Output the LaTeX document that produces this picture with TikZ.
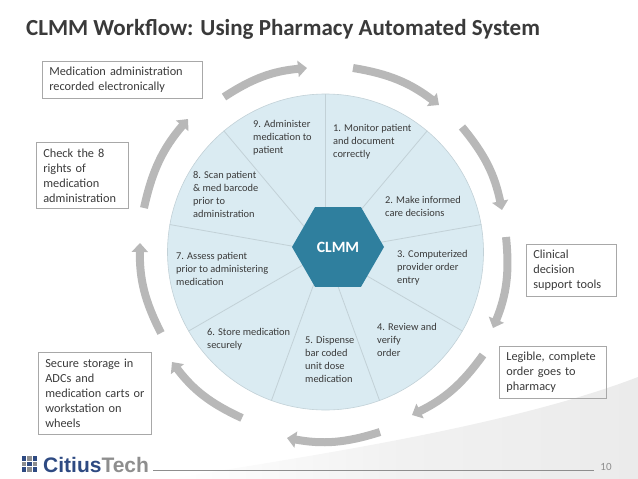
\documentclass[tikz,border=0pt]{standalone}
\usepackage{fontspec}
\setmainfont{Carlito}
\newfontfamily\logofont{Liberation Sans}
\usetikzlibrary{shapes.geometric,arrows.meta}

\definecolor{inkgray}{HTML}{3A3A3A}
\definecolor{wheelblue}{HTML}{DAEBF2}
\definecolor{spokegray}{HTML}{C2D1D7}
\definecolor{hubteal}{HTML}{2F7F9E}
\definecolor{flowgray}{HTML}{B8B8B8}
\definecolor{boxgray}{HTML}{A8A8A8}
\definecolor{swooshgray}{HTML}{EBEBEB}
\definecolor{citiusblue}{HTML}{2E4A82}
\definecolor{techgray}{HTML}{8E8E8E}

\tikzset{
  wheel/.style={circle,fill=wheelblue,draw=spokegray,line width=0.6pt,minimum size=316pt,inner sep=0pt},
  hub/.style={regular polygon,regular polygon sides=6,fill=hubteal,minimum size=92pt,inner sep=0pt,
    text=white,font=\fontsize{15.7}{18}\selectfont\bfseries},
  spoke/.style={draw=spokegray,line width=0.8pt},
  flow/.style={draw=flowgray,line width=8pt,-{Triangle[length=9pt,width=16pt]}},
  infobox/.style={draw=boxgray,line width=0.7pt,anchor=north west,inner xsep=7pt,inner ysep=0pt,align=left,
    text=inkgray,font=\fontsize{12.3}{15}\selectfont},
  wedgelabel/.style={anchor=north west,inner sep=0pt,align=left,text=inkgray,font=\fontsize{10.4}{13}\selectfont}
}

\begin{document}
\begin{tikzpicture}[x=1pt,y=-1pt]
  \useasboundingbox (0,0) rectangle (638,479);

  % background swoosh
  \shade[left color=white,right color=swooshgray,middle color=swooshgray!70!white]
    (170,479) .. controls (280,460) and (500,430) .. (638,377) -- (638,479) -- cycle;

  \node[anchor=west,inner sep=0pt,text=inkgray,font=\fontsize{23}{27}\selectfont\bfseries] (title) at (26,29)
    {CLMM Workflow: Using Pharmacy Automated System};

  % wheel
  \node[wheel] (rim) at (325.5,252) {};
  \foreach \ang in {90,50,10,-30,-70,-110,-150,170,130} {
    \draw[spoke] (rim.center) -- (rim.\ang);
  }
  \node[hub] (clmm) at (338,247) {\raisebox{-3pt}{CLMM}};

  % step labels
  \node[wedgelabel] (step1) at (333,124) {1. Monitor patient\\and document\\correctly};
  \node[wedgelabel] (step2) at (385,196.5) {2. Make informed\\care decisions};
  \node[wedgelabel] (step3) at (397,250.5) {3. Computerized\\provider order\\entry};
  \node[wedgelabel] (step4) at (377,323.5) {4. Review and\\verify\\order};
  \node[wedgelabel] (step5) at (305,336.5) {5. Dispense\\bar coded\\unit dose\\medication};
  \node[wedgelabel] (step6) at (207,328.5) {6. Store medication\\securely};
  \node[wedgelabel] (step7) at (176,252.5) {7. Assess patient\\prior to administering\\medication};
  \node[wedgelabel] (step8) at (193,171.5) {8. Scan patient\\\& med barcode\\prior to\\administration};
  \node[wedgelabel] (step9) at (253,120.5) {9. Administer\\medication to\\patient};

  % arrows round the wheel
  \foreach \i/\tx/\ty/\hx/\hy in {1/224/97/307/68, 2/353/68/439/105, 3/462/127/502/210,
      4/506/237/493/328, 5/483/355/412/415, 6/380/432/287/438,
      7/242/418/172/362, 8/161/333/140/243, 9/144/208/188/119} {
    \coordinate (tail\i) at (\tx,\ty);
    \coordinate (head\i) at (\hx,\hy);
    \draw[flow] (tail\i) to[bend left=14] (head\i);
  }

  % outer boxes
  \node[infobox,text width=146pt,minimum height=37pt] (recorded) at (42,61)
    {Medication administration\\recorded electronically};
  \node[infobox,text width=78pt,minimum height=66pt] (rights) at (36,142)
    {Check the 8\\rights of\\medication\\administration};
  \node[infobox,text width=99pt,minimum height=82pt] (storage) at (38,352)
    {Secure storage in\\ADCs and\\\mbox{medication carts or}\\workstation on\\wheels};
  \node[infobox,text width=76pt,minimum height=52pt] (support) at (526,244)
    {Clinical\\decision\\support tools};
  \node[infobox,text width=93pt,minimum height=52pt] (legible) at (499,346)
    {Legible, complete\\order goes to\\pharmacy};

  % footer
  \foreach \row in {0,1,2} {
    \foreach \col in {0,1,2} {
      \pgfmathparse{mod(\row+\col,2) == 0 ? "citiusblue" : "techgray"}
      \edef\cellcolor{\pgfmathresult}
      \fill[\cellcolor] (22+\col*5.4,456+\row*5.6) rectangle ++(4.4,4.6);
    }
  }
  \node[anchor=west,inner sep=0pt,font=\fontsize{21}{24}\logofont\bfseries] (logo) at (43,464.5)
    {\textcolor{citiusblue}{Citius}\textcolor{techgray}{Tech}};
  \coordinate (footleft) at (153,470);
  \coordinate (footright) at (594,470);
  \draw[draw=techgray,line width=0.7pt] (footleft) -- (footright);
  \node[anchor=center,inner sep=0pt,text=techgray,font=\fontsize{11}{13}\selectfont] (pagenum) at (606,467) {10};
\end{tikzpicture}
\end{document}
